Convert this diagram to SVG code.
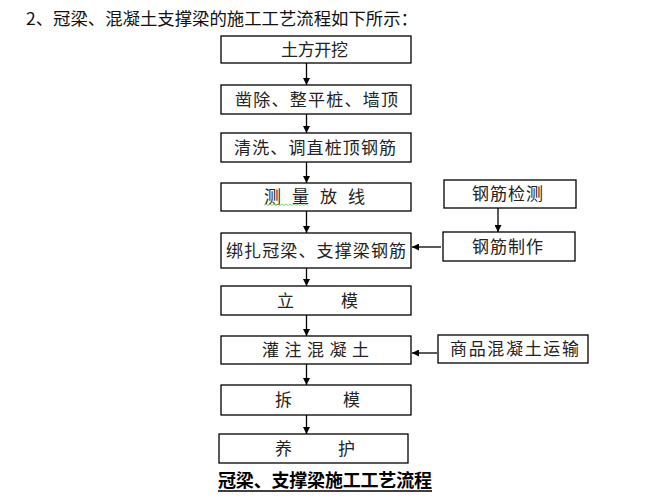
<svg xmlns="http://www.w3.org/2000/svg" width="648" height="503" viewBox="0 0 648 503">
<style>
.box{fill:#fff;stroke:#000;stroke-width:1.3}
.t{font-family:"Noto Sans CJK SC","Noto Sans CJK JP",sans-serif;font-size:17px;fill:#222}
.h{font-family:"Noto Sans CJK SC","Noto Sans CJK JP",sans-serif;font-size:17px;fill:#111}
.ttl{font-family:"Noto Sans CJK SC","Noto Sans CJK JP",sans-serif;font-size:18px;font-weight:bold;fill:#000}
.c{stroke:#000;stroke-width:1.3;fill:none}
</style>
<defs>
<marker id="ah" viewBox="0 0 10 10" refX="10" refY="5" markerWidth="7" markerHeight="7" markerUnits="userSpaceOnUse" orient="auto">
<path d="M0,0 L10,5 L0,10 z" fill="#000"/>
</marker>
</defs>
<rect width="648" height="503" fill="#fff"/>
<text class="h" x="26" y="25" textLength="392" lengthAdjust="spacingAndGlyphs">2、冠梁、混凝土支撑梁的施工工艺流程如下所示：</text>

<g id="connectors">
<line class="c" x1="306.5" y1="63" x2="306.5" y2="85" marker-end="url(#ah)"/>
<line class="c" x1="306.5" y1="114" x2="306.5" y2="133" marker-end="url(#ah)"/>
<line class="c" x1="306.5" y1="162" x2="306.5" y2="183" marker-end="url(#ah)"/>
<line class="c" x1="306.5" y1="211" x2="306.5" y2="233" marker-end="url(#ah)"/>
<line class="c" x1="306.5" y1="268" x2="306.5" y2="286" marker-end="url(#ah)"/>
<line class="c" x1="306.5" y1="315" x2="306.5" y2="336" marker-end="url(#ah)"/>
<line class="c" x1="306.5" y1="364" x2="306.5" y2="385" marker-end="url(#ah)"/>
<line class="c" x1="306.5" y1="415" x2="306.5" y2="434" marker-end="url(#ah)"/>
<line class="c" x1="498" y1="208" x2="498" y2="232" marker-end="url(#ah)"/>
<line class="c" x1="441" y1="247" x2="412" y2="247" marker-end="url(#ah)"/>
<line class="c" x1="437" y1="353" x2="412" y2="353" marker-end="url(#ah)"/>
</g>

<g id="n1"><rect class="box" x="221" y="36" width="190" height="27"/>
<text class="t" x="281" y="56" textLength="67" lengthAdjust="spacing">土方开挖</text></g>
<g id="n2"><rect class="box" x="221" y="85" width="190" height="29"/>
<text class="t" x="235" y="106" textLength="163" lengthAdjust="spacing">凿除、整平桩、墙顶</text></g>
<g id="n3"><rect class="box" x="221" y="133" width="190" height="29"/>
<text class="t" x="234" y="154" textLength="162" lengthAdjust="spacing">清洗、调直桩顶钢筋</text></g>
<g id="n4"><rect class="box" x="221" y="183" width="190" height="28"/>
<text class="t" x="264 292 320 348" y="203">测量放线</text>
<path d="M264,205.5 l2,-1.5 l2,1.5 l2,-1.5 l2,1.5 l2,-1.5 l2,1.5 l2,-1.5 l2,1.5 l2,-1.5 l2,1.5 l2,-1.5 l2,1.5 l2,-1.5 l2,1.5 l2,-1.5 l2,1.5 l2,-1.5 l2,1.5 l2,-1.5 l2,1.5 l2,-1.5 l2,1.5" fill="none" stroke="#6c6" stroke-width="0.8"/></g>
<g id="n5"><rect class="box" x="221" y="233" width="190" height="35"/>
<text class="t" x="226" y="257" textLength="180" lengthAdjust="spacing">绑扎冠梁、支撑梁钢筋</text></g>
<g id="n6"><rect class="box" x="221" y="286" width="190" height="29"/>
<text class="t" x="277 341" y="307">立模</text></g>
<g id="n7"><rect class="box" x="221" y="336" width="190" height="28"/>
<text class="t" x="262 284.5 307 329.5 352" y="356">灌注混凝土</text></g>
<g id="n8"><rect class="box" x="221" y="385" width="190" height="30"/>
<text class="t" x="275 343" y="406">拆模</text></g>
<g id="n9"><rect class="box" x="219" y="434" width="189" height="29"/>
<text class="t" x="275 338" y="455">养护</text></g>
<g id="s1"><rect class="box" x="444" y="180" width="132" height="28"/>
<text class="t" x="472" y="200" textLength="71" lengthAdjust="spacing">钢筋检测</text></g>
<g id="s2"><rect class="box" x="443" y="232" width="132" height="29"/>
<text class="t" x="472" y="253" textLength="71" lengthAdjust="spacing">钢筋制作</text></g>
<g id="s3"><rect class="box" x="438" y="335" width="150" height="28"/>
<text class="t" x="450" y="355" textLength="129" lengthAdjust="spacing">商品混凝土运输</text></g>

<text class="ttl" x="218" y="487" textLength="214" lengthAdjust="spacing">冠梁、支撑梁施工工艺流程</text>
<line x1="218" y1="491" x2="432" y2="491" stroke="#000" stroke-width="1.5"/>
</svg>
